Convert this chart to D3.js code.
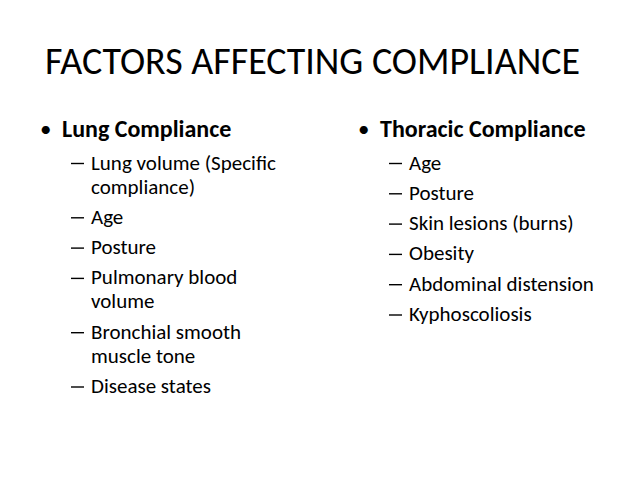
<!DOCTYPE html>
<html>
<head>
<meta charset="utf-8">
<script src="https://cdn.jsdelivr.net/npm/d3@7.9.0/dist/d3.min.js"></script>
<style>
  html, body { margin: 0; padding: 0; background: #fff; }
  svg text { font-family: Carlito, Calibri, Lato, "Open Sans", sans-serif; fill: #000; }
</style>
</head>
<body>
<svg id="slide" width="638" height="479"></svg>
<script>
// slide content
const title = 'FACTORS AFFECTING COMPLIANCE';
const headings = ['Lung Compliance', 'Thoracic Compliance'];
// each item is a list of wrapped lines
const lungItems = [
  ['Lung volume (Specific', 'compliance)'],
  ['Age'],
  ['Posture'],
  ['Pulmonary blood', 'volume'],
  ['Bronchial smooth', 'muscle tone'],
  ['Disease states']
];
const thoracicItems = [
  ['Age'],
  ['Posture'],
  ['Skin lesions (burns)'],
  ['Obesity'],
  ['Abdominal distension'],
  ['Kyphoscoliosis']
];

const svg = d3.select('#slide');

svg.append('rect').attr('width', 638).attr('height', 479).attr('fill', '#fff');

svg.append('text')
  .attr('x', 45).attr('y', 74)
  .attr('font-size', 38)
  .text(title);

const itemStep = 30.3, wrapStep = 24;

function drawColumn(x0, heading, items) {
  const g = svg.append('g').attr('transform', `translate(${x0},0)`);
  g.append('text').attr('x', 0).attr('y', 137).attr('font-size', 23).text('•');
  g.append('text')
    .attr('x', 22).attr('y', 137)
    .attr('font-size', 24).attr('font-weight', 'bold')
    .text(heading);

  let y = 169.5;
  items.forEach(lines => {
    // dash drawn as a short rule, like the Calibri en dash
    g.append('line')
      .attr('x1', 31).attr('x2', 44)
      .attr('y1', y - 6).attr('y2', y - 6)
      .attr('stroke', '#000').attr('stroke-width', 1.4);
    lines.forEach((line, i) => {
      g.append('text')
        .attr('x', 51).attr('y', y + i * wrapStep)
        .attr('font-size', 21).text(line);
    });
    y += (lines.length - 1) * wrapStep + itemStep;
  });
}

drawColumn(40, headings[0], lungItems);
drawColumn(358, headings[1], thoracicItems);
</script>
</body>
</html>
